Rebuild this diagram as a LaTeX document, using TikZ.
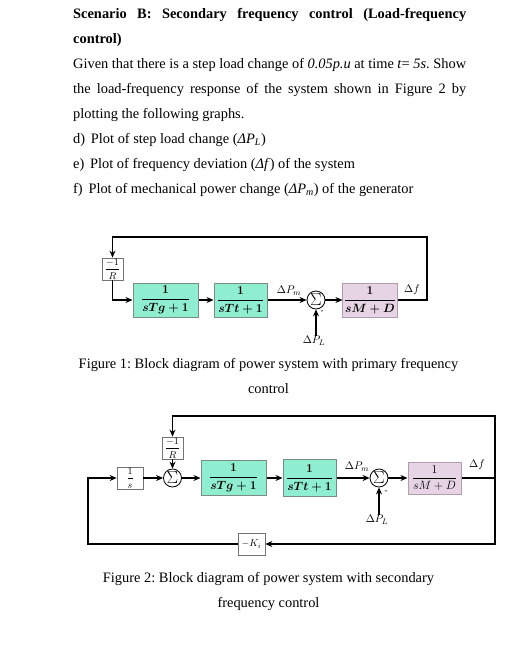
\documentclass[tikz,border=0pt]{standalone}
\usepackage{amsmath}
\usepackage{fontspec}
\setmainfont{Liberation Serif}
\usetikzlibrary{arrows.meta}
\definecolor{blkgreen}{HTML}{8FEDD0}
\definecolor{blkpink}{HTML}{E6D4E4}
\definecolor{edgegreen}{HTML}{7B8C85}
\definecolor{edgepink}{HTML}{B39CB0}
\frenchspacing

\begin{document}
\begin{tikzpicture}[x=1pt,y=-1pt,
    txt/.style={font=\fontsize{14.4}{25}\selectfont,inner sep=0pt},
    grn/.style={draw=edgegreen,fill=blkgreen,line width=1pt,inner sep=1pt,
                minimum height=34pt,font=\fontsize{12}{14}\selectfont\boldmath},
    pnk/.style={grn,draw=edgepink,fill=blkpink},
    gain/.style={draw=black!55,fill=white,line width=0.7pt,inner sep=1pt,
                 minimum width=21pt,minimum height=22pt,font=\fontsize{10}{11}\selectfont},
    sumc/.style={circle,draw=black,line width=0.8pt,fill=white,inner sep=0pt,
                 minimum size=18pt,font=\fontsize{16}{16}\selectfont},
    lbl/.style={inner sep=0pt,font=\fontsize{11}{11}\selectfont},
    lnk/.style={-{Stealth[length=7pt,width=6pt]},line width=1.1pt}]

  \useasboundingbox (0,0) rectangle (527,648);

  % task text
  \node[txt,anchor=north west,align=left] (task) at (73,8)
    {\makebox[393pt][s]{\bfseries Scenario B: Secondary frequency control (Load-frequency}\\
     \textbf{control)}\\
     \makebox[393pt][s]{Given that there is a step load change of \textit{0.05p.u} at time \textit{t}= \textit{5s}. Show}\\
     \makebox[393pt][s]{the load-frequency response of the system shown in Figure 2 by}\\
     plotting the following graphs.\\
     d)\hspace{0.4em}Plot of step load change (\textit{ΔP\textsubscript{L}})\\
     e)\hspace{0.4em}Plot of frequency deviation (\textit{Δf}) of the system\\
     f)\hspace{0.4em}Plot of mechanical power change (\textit{ΔP\textsubscript{m}}) of the generator};

  % figure 1: primary control
  \node[gain] (R1) at (112.5,269) {$\dfrac{-1}{R}$};
  \node[grn,minimum width=65pt] (g1) at (165.5,300) {$\dfrac{1}{sTg+1}$};
  \node[grn,minimum width=53pt] (t1) at (240.5,300) {$\dfrac{1}{sTt+1}$};
  \node[sumc] (s1) at (316,300) {$\Sigma$};
  \node[pnk,minimum width=54pt] (m1) at (370,300) {$\dfrac{1}{sM+D}$};
  \coordinate (c1) at (427,237);
  \node[lbl] (pm1) at (289,291) {$\Delta P_m$};
  \node[lbl] (df1) at (412,290) {$\Delta f$};
  \node[lbl] (pl1) at (314,341) {$\Delta P_L$};
  \node[inner sep=0pt,font=\fontsize{9}{9}\selectfont] (n1) at (322,312) {-};

  \draw[lnk] (m1.east) -| (c1) -| (R1.north);
  \draw[lnk] (R1.south) |- (g1.west);
  \draw[lnk] (g1) -- (t1);
  \draw[lnk] (t1) -- (s1);
  \draw[lnk] (s1) -- (m1);
  \draw[lnk] (pl1.north -| s1) -- (s1.south);

  \node[txt,anchor=north,align=center] (cap1) at (268.5,358)
    {Figure 1: Block diagram of power system with primary frequency\\control};

  % figure 2: secondary control
  \node[gain] (R2) at (172.5,448) {$\dfrac{-1}{R}$};
  \node[sumc] (sa) at (172.5,478) {$\Sigma$};
  \node[gain,minimum width=26pt] (inv) at (130,478) {$\dfrac{1}{s}$};
  \node[grn,minimum width=65pt,minimum height=35pt] (g2) at (233.5,478) {$\dfrac{1}{sTg+1}$};
  \node[grn,minimum width=53pt,minimum height=37pt] (t2) at (309.5,478) {$\dfrac{1}{sTt+1}$};
  \node[sumc] (sb) at (379,478) {$\Sigma$};
  \node[pnk,minimum width=53pt,minimum height=32pt,font=\fontsize{12}{14}\selectfont] (m2) at (434.5,478) {$\dfrac{1}{sM+D}$};
  \node[gain,minimum width=27pt] (K) at (251.5,544) {$-K_i$};
  \coordinate (c2) at (495,416);
  \coordinate (c4) at (88,510);
  \node[lbl] (pm2) at (357,467) {$\Delta P_m$};
  \node[lbl] (df2) at (477,465) {$\Delta f$};
  \node[lbl] (pl2) at (377,520) {$\Delta P_L$};
  \node[inner sep=0pt,font=\fontsize{9}{9}\selectfont] (n2) at (386,492) {-};

  \draw[lnk] (m2.east) -| (c2) -| (R2.north);
  \draw[lnk] (m2.east -| c2) |- (K.east);
  \draw[lnk] (K.west) -| (c4) |- (inv.west);
  \draw[lnk] (R2) -- (sa);
  \draw[lnk] (inv) -- (sa);
  \draw[lnk] (sa) -- (g2);
  \draw[lnk] (g2) -- (t2);
  \draw[lnk] (t2) -- (sb);
  \draw[lnk] (sb) -- (m2);
  \draw[lnk] (pl2.north -| sb) -- (sb.south);

  \node[txt,anchor=north,align=center] (cap2) at (268.5,572)
    {Figure 2: Block diagram of power system with secondary\\frequency control};
\end{tikzpicture}
\end{document}
